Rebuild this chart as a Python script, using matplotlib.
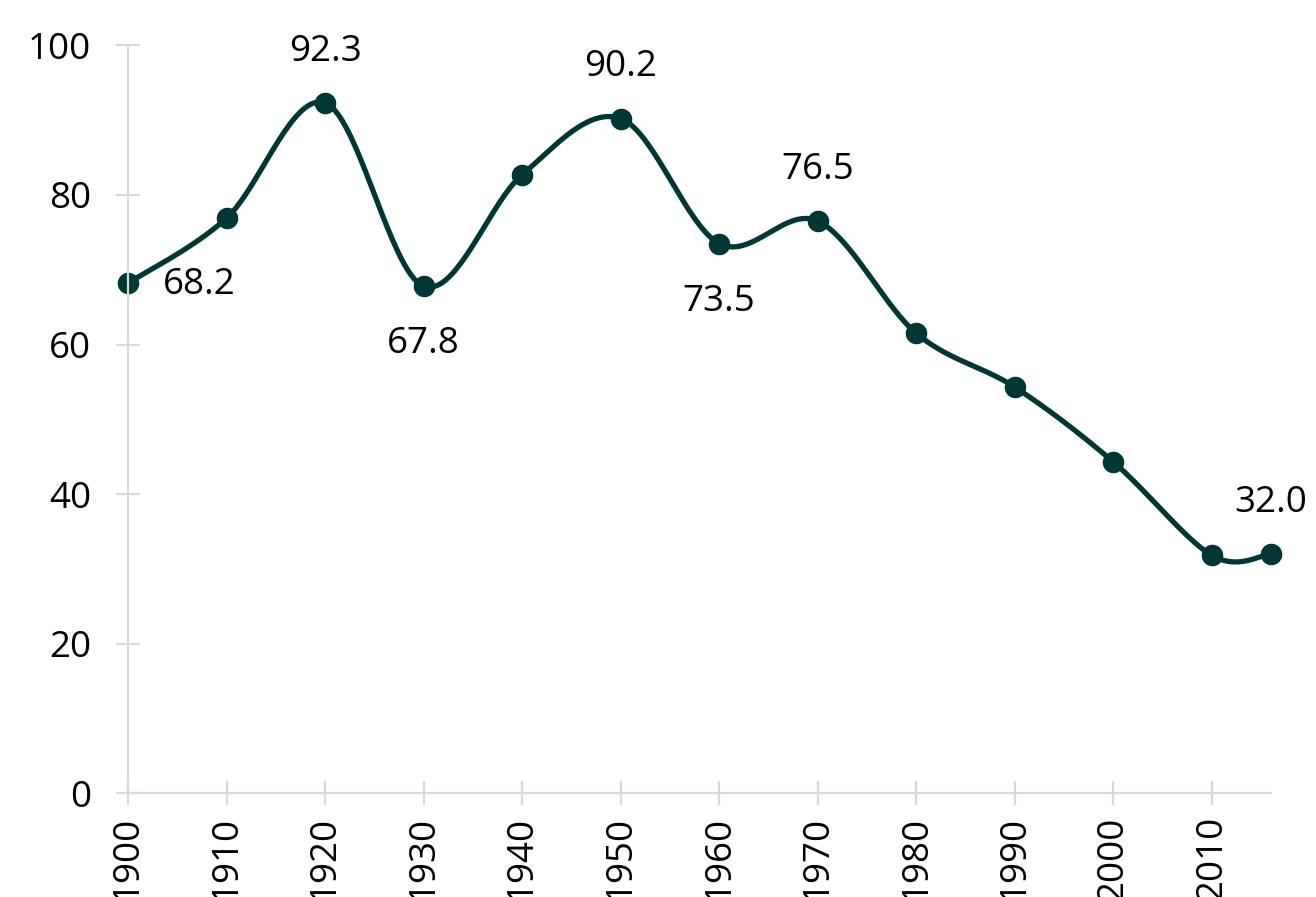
import numpy as np
import matplotlib
matplotlib.use("Agg")
import matplotlib.pyplot as plt

years = [1900, 1910, 1920, 1930, 1940, 1950, 1960, 1970, 1980, 1990, 2000, 2010, 2016]
values = [68.2, 76.9, 92.3, 67.8, 82.7, 90.2, 73.5, 76.5, 61.5, 54.3, 44.3, 31.8, 32.0]
tick_years = [1900, 1910, 1920, 1930, 1940, 1950, 1960, 1970, 1980, 1990, 2000, 2010]

# which points get a label and where (above / below / right)
labels = {0: "right", 2: "above", 3: "below", 5: "above", 6: "below", 7: "above", 12: "above"}

line_col = "#003734"
axis_col = "#d9d9d9"


def smooth(xs, ys, n=40):
    # excel-like smoothing: bezier segments with catmull-rom control points
    xs = np.asarray(xs, float)
    ys = np.asarray(ys, float)
    px = np.concatenate([[xs[0]], xs, [xs[-1]]])
    py = np.concatenate([[ys[0]], ys, [ys[-1]]])
    outx, outy = [], []
    t = np.linspace(0, 1, n)
    for i in range(1, len(px) - 2):
        x0, y0 = px[i], py[i]
        x3, y3 = px[i + 1], py[i + 1]
        x1 = x0 + (px[i + 1] - px[i - 1]) / 6
        y1 = y0 + (py[i + 1] - py[i - 1]) / 6
        x2 = x3 - (px[i + 2] - px[i]) / 6
        y2 = y3 - (py[i + 2] - py[i]) / 6
        bx = (1-t)**3*x0 + 3*(1-t)**2*t*x1 + 3*(1-t)*t**2*x2 + t**3*x3
        by = (1-t)**3*y0 + 3*(1-t)**2*t*y1 + 3*(1-t)*t**2*y2 + t**3*y3
        outx.extend(bx)
        outy.extend(by)
    return outx, outy


plt.rcParams['font.family'] = ['Open Sans', 'DejaVu Sans']

fig = plt.figure(figsize=(13.16, 8.97), dpi=100)
ax = fig.add_axes([0.0973, 0.1156, 0.8685, 0.8339])

sx, sy = smooth(years, values)
ax.plot(sx, sy, color=line_col, lw=3.8, clip_on=False, solid_capstyle="round")
ax.plot(years, values, "o", color=line_col, ms=14.5, clip_on=False)

for i, pos in labels.items():
    txt = f"{values[i]:.1f}"
    if pos == "above":
        off, ha, va = (0, 37), "center", "center"
    elif pos == "below":
        off, ha, va = (0, -42), "center", "center"
    else:
        off, ha, va = (25, -1), "left", "center"
    ax.annotate(txt, (years[i], values[i]), xytext=off, textcoords="offset points",
                ha=ha, va=va, fontsize=26.5, color="black", annotation_clip=False)

ax.set_xlim(1900, 2016)
ax.set_ylim(0, 100)
ax.set_yticks([0, 20, 40, 60, 80, 100])
ax.set_xticks(tick_years)
ax.set_xticklabels([str(y) for y in tick_years], rotation=90)

for s in ["top", "right"]:
    ax.spines[s].set_visible(False)
for s in ["left", "bottom"]:
    ax.spines[s].set_color(axis_col)
    ax.spines[s].set_linewidth(1.6)

ax.tick_params(axis="both", direction="inout", length=17, width=1.6, color=axis_col,
               labelsize=26.5, labelcolor="black")
ax.tick_params(axis="y", pad=18)
ax.tick_params(axis="x", pad=8)

fig.savefig("out.png", dpi=100)
